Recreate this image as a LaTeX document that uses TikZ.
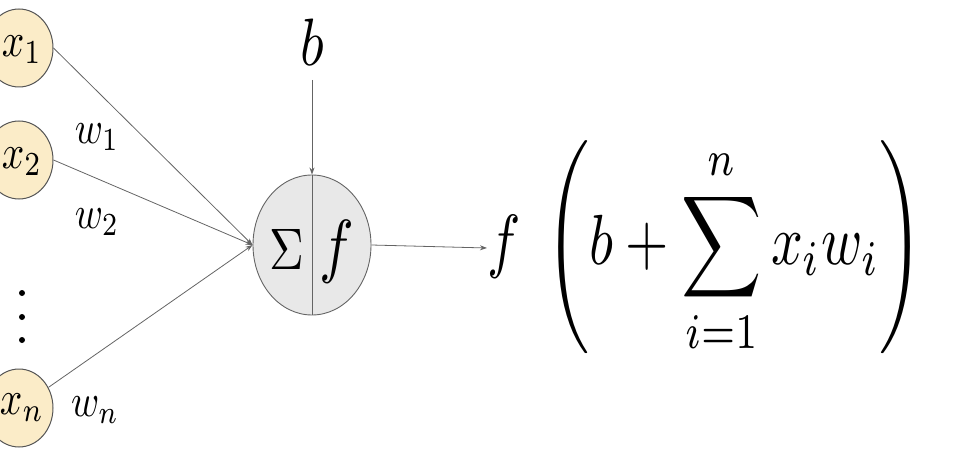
\documentclass[tikz,border=0pt]{standalone}
\usepackage{graphicx}
\usetikzlibrary{shapes.geometric,arrows.meta}
\definecolor{inbg}{RGB}{251,236,200}
\definecolor{sumbg}{RGB}{232,232,232}
\definecolor{edgegray}{RGB}{100,100,100}
\definecolor{ringgray}{RGB}{85,85,85}
\tikzset{
  inputnode/.style={ellipse, draw=ringgray, line width=1pt, fill=inbg, minimum width=68pt, minimum height=78pt, inner sep=0pt},
  lab/.style={inner sep=0pt},
  conn/.style={draw=edgegray, line width=0.8pt},
  arr/.style={conn, -{Stealth[length=7pt,width=5pt]}}
}
\begin{document}
\begin{tikzpicture}[x=1pt,y=-1pt]
\useasboundingbox (0,0) rectangle (967,468);
% inputs
\node[inputnode] (x1) at (19,48) {};
\node[inputnode] (x2) at (19,160) {};
\node[inputnode] (xn) at (19,408) {};
\node[lab] (tx1) at (22,50) {\scalebox{3.95}[4.8]{$x_1$}};
\node[lab] (tx2) at (22,162) {\scalebox{3.95}[4.8]{$x_2$}};
\node[lab] (txn) at (22,408) {\scalebox{3.95}[4.8]{$x_n$}};
% dots
\fill (22,293) circle (3pt) coordinate (d1);
\fill (22,317) circle (3pt) coordinate (d2);
\fill (22,340) circle (3pt) coordinate (d3);
% weights
\node[lab] (w1) at (97,137) {\scalebox{3.8}[4.6]{$w_1$}};
\node[lab] (w2) at (97,222) {\scalebox{3.8}[4.6]{$w_2$}};
\node[lab] (wn) at (95,410) {\scalebox{3.8}[4.6]{$w_n$}};
% neuron
\node[ellipse, draw=edgegray, line width=0.9pt, fill=sumbg, minimum width=118pt, minimum height=140pt, inner sep=0pt] (sum) at (312,245) {};
\draw[conn] (sum.north) -- (sum.south);
\node[lab] (sig) at (287,249) {\scalebox{4.8}[5.86]{$\Sigma$}};
\node[lab] (fn) at (337,252) {\scalebox{5.8}[7.08]{$f$}};
% bias
\node[lab] (b) at (312,42) {\scalebox{5.5}[6.7]{$b$}};
\coordinate (btop) at (312,80);
\draw[arr] (btop) -- (sum.north);
% input edges
\draw[arr] (x1.east) -- (sum.west);
\draw[arr] (x2.east) -- (sum.west);
\draw[arr] (xn.35) -- (sum.west);
% output formula
\node[lab, anchor=west] (out) at (487,248)
  {\scalebox{5.57}[7.1]{$\displaystyle f\;\left(b+\sum_{i=1}^{n} x_i w_i\right)$}};
\draw[arr] (sum.east) -- (out.west);
\end{tikzpicture}
\end{document}
